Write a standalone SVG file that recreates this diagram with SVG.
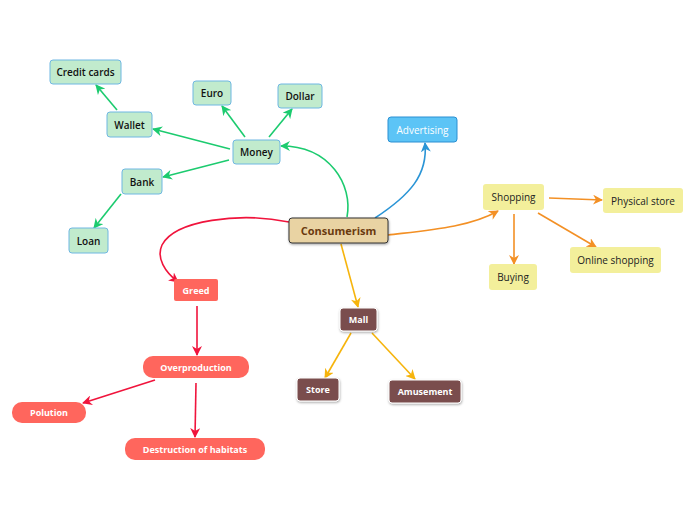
<svg xmlns="http://www.w3.org/2000/svg" width="696" height="520" viewBox="0 0 696 520">
<defs>
<marker id="ag" viewBox="0 0 10 10" refX="9" refY="5" markerWidth="10" markerHeight="10" markerUnits="userSpaceOnUse" orient="auto"><path d="M0,0 L10,5 L0,10 L3,5 Z" fill="#1ccb6f"/></marker>
<marker id="ab" viewBox="0 0 10 10" refX="9" refY="5" markerWidth="10" markerHeight="10" markerUnits="userSpaceOnUse" orient="auto"><path d="M0,0 L10,5 L0,10 L3,5 Z" fill="#2b95d6"/></marker>
<marker id="ao" viewBox="0 0 10 10" refX="9" refY="5" markerWidth="10" markerHeight="10" markerUnits="userSpaceOnUse" orient="auto"><path d="M0,0 L10,5 L0,10 L3,5 Z" fill="#f39025"/></marker>
<marker id="ar" viewBox="0 0 10 10" refX="9" refY="5" markerWidth="10" markerHeight="10" markerUnits="userSpaceOnUse" orient="auto"><path d="M0,0 L10,5 L0,10 L3,5 Z" fill="#f0143c"/></marker>
<marker id="ay" viewBox="0 0 10 10" refX="9" refY="5" markerWidth="10" markerHeight="10" markerUnits="userSpaceOnUse" orient="auto"><path d="M0,0 L10,5 L0,10 L3,5 Z" fill="#f6b40c"/></marker>
<filter id="sh" x="-20%" y="-20%" width="140%" height="160%"><feDropShadow dx="0.5" dy="1.2" stdDeviation="0.8" flood-color="#000" flood-opacity="0.35"/></filter>
</defs>
<style>
text{font-family:"Open Sans","Noto Sans","DejaVu Sans",sans-serif;font-size:10px;text-anchor:middle;dominant-baseline:central}
.g rect{fill:#c1ebcd;stroke:#6fb7e2;stroke-width:1}
.g text{fill:#111;font-weight:600}
.y rect{fill:#f3ef9b}
.y text{fill:#222}
.r rect{fill:#ff665d}
.r text{fill:#fff;font-weight:bold;font-size:9px}
.m rect{fill:#7a4e4d;stroke:#fff;stroke-width:1;filter:url(#sh)}
.m text{fill:#fff;font-weight:bold;font-size:9px}
.c path,.c line{fill:none;stroke-width:1.6}
.cg{stroke:#1ccb6f}
.cb{stroke:#2b95d6}
.co{stroke:#f39025}
.cr{stroke:#f0143c}
.cy{stroke:#f6b40c}
</style>
<g class="c" id="connectors">
<path class="cg" d="M347,217 C353,185 330,146 281,146" marker-end="url(#ag)"/>
<line class="cg" x1="230" y1="149" x2="153" y2="129" marker-end="url(#ag)"/>
<line class="cg" x1="229" y1="160" x2="163" y2="177" marker-end="url(#ag)"/>
<line class="cg" x1="117" y1="110" x2="96" y2="85" marker-end="url(#ag)"/>
<line class="cg" x1="245" y1="137" x2="222" y2="106" marker-end="url(#ag)"/>
<line class="cg" x1="269" y1="137" x2="292" y2="109" marker-end="url(#ag)"/>
<line class="cg" x1="121" y1="194" x2="94" y2="228" marker-end="url(#ag)"/>
<path class="cb" d="M375,218 C410,195 428,175 425,143" marker-end="url(#ab)"/>
<path class="co" d="M388,235 C430,230 470,227 498,211" marker-end="url(#ao)"/>
<line class="co" x1="549" y1="198" x2="602" y2="200" marker-end="url(#ao)"/>
<line class="co" x1="514" y1="214" x2="514" y2="264" marker-end="url(#ao)"/>
<line class="co" x1="538" y1="213" x2="596" y2="247" marker-end="url(#ao)"/>
<path class="cr" d="M289,222 C240,212 175,220 162,245 C156,258 165,272 178,282" marker-end="url(#ar)"/>
<line class="cr" x1="197" y1="306" x2="197" y2="355" marker-end="url(#ar)"/>
<line class="cr" x1="155" y1="380" x2="83" y2="403" marker-end="url(#ar)"/>
<line class="cr" x1="196" y1="383" x2="195" y2="437" marker-end="url(#ar)"/>
<line class="cy" x1="341" y1="244" x2="358" y2="307" marker-end="url(#ay)"/>
<line class="cy" x1="351" y1="333" x2="325" y2="378" marker-end="url(#ay)"/>
<line class="cy" x1="372" y1="333" x2="415" y2="379" marker-end="url(#ay)"/>
</g>
<g id="credit-cards" class="g"><rect x="50" y="60" width="71" height="24" rx="3"/><text x="85.5" y="72">Credit cards</text></g>
<g id="wallet" class="g"><rect x="107" y="112" width="45" height="25" rx="3"/><text x="129.5" y="124.5">Wallet</text></g>
<g id="euro" class="g"><rect x="193" y="81" width="38" height="24" rx="3"/><text x="212" y="93">Euro</text></g>
<g id="dollar" class="g"><rect x="278" y="84" width="44" height="24" rx="3"/><text x="300" y="96">Dollar</text></g>
<g id="money" class="g"><rect x="233" y="140" width="47" height="24" rx="3"/><text x="256.5" y="152">Money</text></g>
<g id="bank" class="g"><rect x="122" y="169" width="40" height="25" rx="3"/><text x="142" y="181.5">Bank</text></g>
<g id="loan" class="g"><rect x="69" y="228" width="39" height="25" rx="3"/><text x="88.5" y="240.5">Loan</text></g>
<g id="consumerism"><rect x="289" y="218" width="99" height="25" rx="3" fill="#e9d3a3" stroke="#333" stroke-width="1" filter="url(#sh)"/><text x="338.5" y="230.5" style="fill:#6a3a0f;font-weight:bold;font-size:11px">Consumerism</text></g>
<g id="advertising"><rect x="388" y="117" width="69" height="25" rx="3" fill="#5cc4f6" stroke="#2a8fd2" stroke-width="1"/><text x="422.5" y="129.5" style="fill:#fff">Advertising</text></g>
<g id="shopping" class="y"><rect x="483" y="184" width="61" height="26" rx="3"/><text x="513.5" y="197">Shopping</text></g>
<g id="physical-store" class="y"><rect x="603" y="188" width="80" height="25" rx="3"/><text x="643" y="200.5">Physical store</text></g>
<g id="buying" class="y"><rect x="489" y="264" width="48" height="26" rx="3"/><text x="513" y="277">Buying</text></g>
<g id="online-shopping" class="y"><rect x="570" y="247" width="91" height="26" rx="3"/><text x="615.5" y="260">Online shopping</text></g>
<g id="greed" class="r"><rect x="174" y="279" width="44" height="22" rx="2"/><text x="196" y="290">Greed</text></g>
<g id="overproduction" class="r"><rect x="143" y="356" width="106" height="22" rx="10"/><text x="196" y="367">Overproduction</text></g>
<g id="polution" class="r"><rect x="12" y="402" width="74" height="21" rx="10"/><text x="49" y="412.5">Polution</text></g>
<g id="destruction" class="r"><rect x="125" y="438" width="140" height="22" rx="10"/><text x="195" y="449">Destruction of habitats</text></g>
<g id="mall" class="m"><rect x="340" y="308" width="37" height="23" rx="3"/><text x="358.5" y="319.5">Mall</text></g>
<g id="store" class="m"><rect x="297" y="378" width="42" height="23" rx="3"/><text x="318" y="389.5">Store</text></g>
<g id="amusement" class="m"><rect x="389" y="380" width="72" height="23" rx="3"/><text x="425" y="391.5">Amusement</text></g>
</svg>
